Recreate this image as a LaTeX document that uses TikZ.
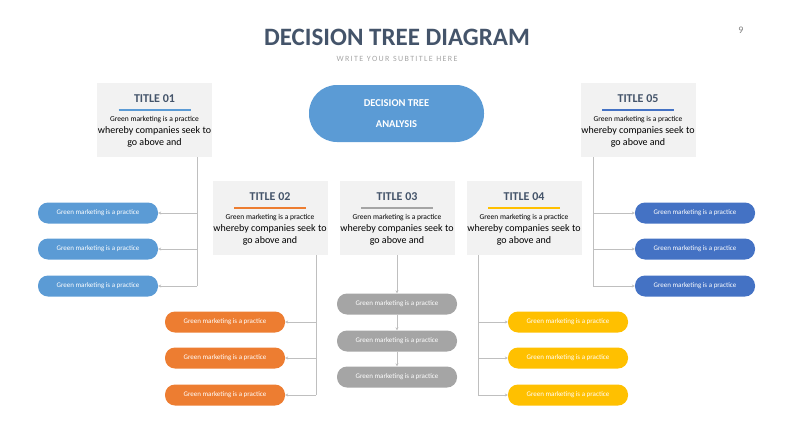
\documentclass[tikz,border=0pt]{standalone}
\usepackage{fontspec}
\setmainfont{Carlito}
\usetikzlibrary{arrows.meta}
\definecolor{navy}{HTML}{44546A}
\definecolor{cblue}{HTML}{5B9BD5}
\definecolor{corange}{HTML}{ED7D31}
\definecolor{cgray}{HTML}{A5A5A5}
\definecolor{cyellow}{HTML}{FFC000}
\definecolor{cdblue}{HTML}{4472C4}
\definecolor{boxbg}{HTML}{F2F2F2}
\definecolor{linec}{HTML}{BFBFBF}
\tikzset{
  titlebox/.style={fill=boxbg, minimum width=115pt, minimum height=74pt, anchor=north, inner sep=0pt},
  pill/.style={rounded corners=10pt, minimum width=120pt, minimum height=21pt, text=white, font=\fontsize{7}{8}\selectfont, inner sep=0pt},
  conn/.style={linec, line width=1pt},
  arr/.style={conn, -{Stealth[length=3pt,width=3pt]}},
}
\newcommand{\boxtext}{\fontsize{7.5}{11.5}\selectfont Green marketing is a practice\\whereby companies seek to\\go above and}
\begin{document}
\begin{tikzpicture}[x=1pt,y=-1pt]
\useasboundingbox (0,0) rectangle (794,447);
% heading
\node[text=navy, font=\bfseries\fontsize{25}{28}\selectfont] (head) at (397,37) {DECISION TREE DIAGRAM};
\node[text=cgray, font=\fontsize{8}{9}\selectfont] (sub) at (397,59) {W\,R\,I\,T\,E\ \ Y\,O\,U\,R\ \ S\,U\,B\,T\,I\,T\,L\,E\ \ H\,E\,R\,E};
\node[text=gray, font=\fontsize{10}{11}\selectfont] (pg) at (741,30) {9};
\node[fill=cblue, rounded corners=28pt, minimum width=175pt, minimum height=57pt, text=white, align=center, font=\bfseries\fontsize{10.5}{21}\selectfont] (root) at (396.5,113.5) {DECISION TREE\\ANALYSIS};

% title boxes
\foreach \n/\x/\y/\c in {01/154.5/83/cblue, 02/270/181/corange, 03/397/181/cgray, 04/524/181/cyellow, 05/638/83/cdblue}{
  \node[titlebox] (box\n) at (\x,\y) {};
  \node[text=navy, font=\bfseries\fontsize{12}{14}\selectfont] (t\n) at (\x,\y+16) {TITLE \n};
  \draw[\c, line width=2.2pt] (\x-36,\y+27) -- (\x+36,\y+27);
  \node[align=center, inner sep=0pt] (d\n) at (\x,\y+49) {\boxtext};
}

% pills
\foreach \i/\y in {1/213,2/249,3/286}{
  \node[pill, fill=cblue] (l\i) at (98,\y) {Green marketing is a practice};
  \node[pill, fill=cdblue] (r\i) at (695,\y) {Green marketing is a practice};
}
\foreach \i/\y in {1/322,2/358,3/395}{
  \node[pill, fill=corange] (o\i) at (225,\y) {Green marketing is a practice};
  \node[pill, fill=cyellow] (y\i) at (568,\y) {Green marketing is a practice};
}
\foreach \i/\y in {1/304,2/341,3/377}{
  \node[pill, fill=cgray] (g\i) at (397,\y) {Green marketing is a practice};
}

% connectors
\coordinate (a1) at (197,157); \coordinate (a2) at (197,286);
\draw[conn] (a1) -- (a2);
\foreach \i in {1,2,3} \draw[arr] (l\i.east -| a1) -- (l\i.east);
\coordinate (b1) at (316,255); \coordinate (b2) at (316,395);
\draw[conn] (b1) -- (b2);
\foreach \i in {1,2,3} \draw[arr] (o\i.east -| b1) -- (o\i.east);
\coordinate (c1) at (478,255); \coordinate (c2) at (478,395);
\draw[conn] (c1) -- (c2);
\foreach \i in {1,2,3} \draw[arr] (y\i.west -| c1) -- (y\i.west);
\coordinate (e1) at (593,157); \coordinate (e2) at (593,286);
\draw[conn] (e1) -- (e2);
\foreach \i in {1,2,3} \draw[arr] (r\i.west -| e1) -- (r\i.west);
\draw[arr] (box03.south) -- (g1.north);
\draw[arr] (g1.south) -- (g2.north);
\draw[arr] (g2.south) -- (g3.north);
\end{tikzpicture}
\end{document}
